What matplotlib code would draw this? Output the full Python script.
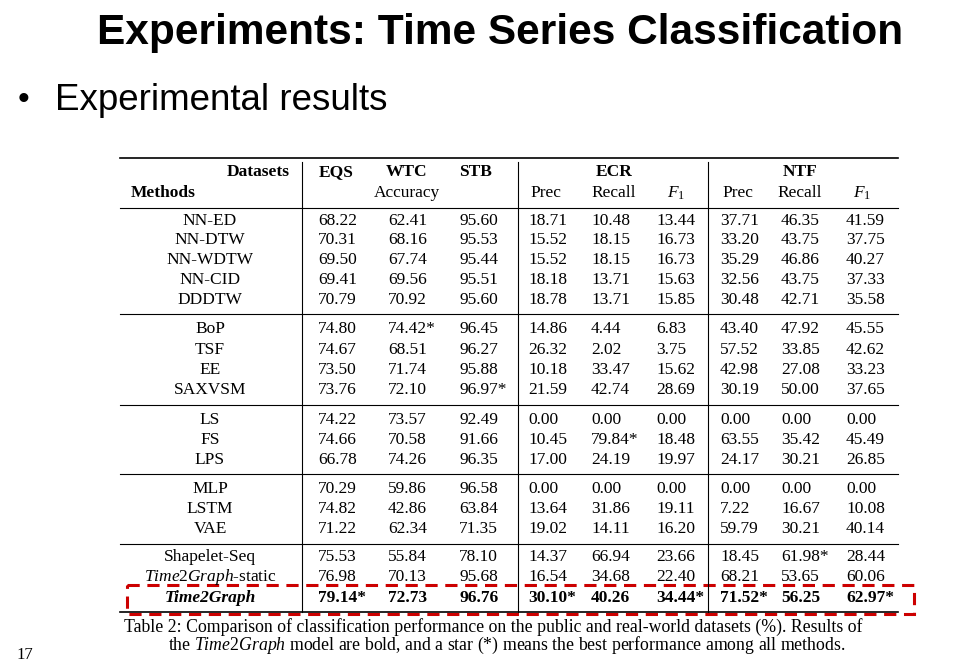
import matplotlib.pyplot as plt
from matplotlib.patches import Rectangle

plt.rcParams["mathtext.fontset"] = "custom"
plt.rcParams["mathtext.rm"] = "Liberation Serif"
plt.rcParams["mathtext.it"] = "Liberation Serif:italic"

methods = ["NN-ED", "NN-DTW", "NN-WDTW", "NN-CID", "DDDTW",
           "BoP", "TSF", "EE", "SAXVSM",
           "LS", "FS", "LPS",
           "MLP", "LSTM", "VAE",
           "Shapelet-Seq", "Time2Graph-static", "Time2Graph"]
values = [
    ["68.22", "62.41", "95.60", "18.71", "10.48", "13.44", "37.71", "46.35", "41.59"],
    ["70.31", "68.16", "95.53", "15.52", "18.15", "16.73", "33.20", "43.75", "37.75"],
    ["69.50", "67.74", "95.44", "15.52", "18.15", "16.73", "35.29", "46.86", "40.27"],
    ["69.41", "69.56", "95.51", "18.18", "13.71", "15.63", "32.56", "43.75", "37.33"],
    ["70.79", "70.92", "95.60", "18.78", "13.71", "15.85", "30.48", "42.71", "35.58"],
    ["74.80", "74.42*", "96.45", "14.86", "4.44", "6.83", "43.40", "47.92", "45.55"],
    ["74.67", "68.51", "96.27", "26.32", "2.02", "3.75", "57.52", "33.85", "42.62"],
    ["73.50", "71.74", "95.88", "10.18", "33.47", "15.62", "42.98", "27.08", "33.23"],
    ["73.76", "72.10", "96.97*", "21.59", "42.74", "28.69", "30.19", "50.00", "37.65"],
    ["74.22", "73.57", "92.49", "0.00", "0.00", "0.00", "0.00", "0.00", "0.00"],
    ["74.66", "70.58", "91.66", "10.45", "79.84*", "18.48", "63.55", "35.42", "45.49"],
    ["66.78", "74.26", "96.35", "17.00", "24.19", "19.97", "24.17", "30.21", "26.85"],
    ["70.29", "59.86", "96.58", "0.00", "0.00", "0.00", "0.00", "0.00", "0.00"],
    ["74.82", "42.86", "63.84", "13.64", "31.86", "19.11", "7.22", "16.67", "10.08"],
    ["71.22", "62.34", "71.35", "19.02", "14.11", "16.20", "59.79", "30.21", "40.14"],
    ["75.53", "55.84", "78.10", "14.37", "66.94", "23.66", "18.45", "61.98*", "28.44"],
    ["76.98", "70.13", "95.68", "16.54", "34.68", "22.40", "68.21", "53.65", "60.06"],
    ["79.14*", "72.73", "96.76", "30.10*", "40.26", "34.44*", "71.52*", "56.25", "62.97*"],
]
row_y = [221, 240, 260, 280, 300, 329, 350, 370, 390, 420, 440, 460,
         489, 509, 529, 557, 577, 598]
col_left = [318, 388, 459, 528, 591, 656, 720, 781, 846]
col_x = [336, 407, 476, 546, 614, 676, 738, 800, 862]
group_rules = [314, 405, 474, 544]

fig = plt.figure(figsize=(9.78, 6.68), dpi=100)
ax = fig.add_axes([0, 0, 1, 1])
ax.set_xlim(0, 978)
ax.set_ylim(668, 0)
ax.axis("off")

serif = "Liberation Serif"
sans = "Liberation Sans"

ax.text(500, 33, "Experiments: Time Series Classification", ha="center", va="center",
        fontsize=30.5, fontweight="bold", family=sans)
ax.text(18, 100, "•", ha="left", va="center", fontsize=24, family=sans)
ax.text(55, 100, "Experimental results", ha="left", va="center", fontsize=26.5, family=sans)
ax.text(16, 655, "17", ha="left", va="center", fontsize=12, family=serif)

# header
fs = 12.5
ax.text(290, 172, "Datasets", ha="right", va="center", fontsize=fs, fontweight="bold", family=serif)
ax.text(131, 193, "Methods", ha="left", va="center", fontsize=fs, fontweight="bold", family=serif)
for x, name in [(336, "EQS"), (407, "WTC"), (476, "STB"), (614, "ECR"), (800, "NTF")]:
    ax.text(x, 172, name, ha="center", va="center", fontsize=fs, fontweight="bold", family=serif)
ax.text(407, 193, "Accuracy", ha="center", va="center", fontsize=fs, family=serif)
for x, name in zip(col_x[3:], ["Prec", "Recall", "$F_1$"] * 2):
    ax.text(x, 193, name, ha="center", va="center", fontsize=fs, family=serif)

# rules
ax.plot([120, 898], [158, 158], color="black", lw=1.2)
ax.plot([120, 898], [208, 208], color="black", lw=0.8)
for y in group_rules:
    ax.plot([120, 898], [y, y], color="black", lw=0.8)
ax.plot([120, 898], [612, 612], color="black", lw=1.2)
for x in [302, 518, 708]:
    ax.plot([x, x], [162, 612], color="black", lw=0.8)

# body
for i, (m, row, y) in enumerate(zip(methods, values, row_y)):
    bold = i == len(methods) - 1
    w = "bold" if bold else "normal"
    label = "$\\mathit{Time2Graph}$-static" if m == "Time2Graph-static" else m
    ax.text(210, y, label, ha="center", va="center", fontsize=fs, family=serif,
            fontweight=w, style="italic" if m == "Time2Graph" else "normal")
    for x, v in zip(col_left, row):
        ax.text(x, y, v, ha="left", va="center", fontsize=fs, family=serif, fontweight=w)

ax.add_patch(Rectangle((127, 585), 787, 29, fill=False, ec="#cc0000", lw=2.2, ls=(0, (4, 2.5))))

ax.text(124, 627, "Table 2: Comparison of classification performance on the public and real-world datasets (%). Results of",
        ha="left", va="center", fontsize=12.8, family=serif)
ax.text(168, 645, "the $\\mathit{Time2Graph}$ model are bold, and a star (*) means the best performance among all methods.",
        ha="left", va="center", fontsize=12.8, family=serif)

fig.savefig("out.png", dpi=100)
